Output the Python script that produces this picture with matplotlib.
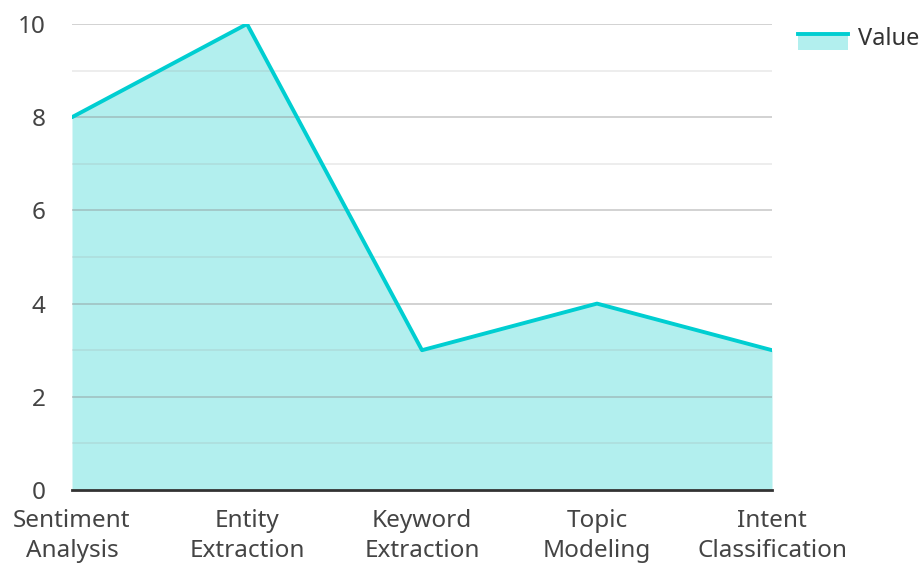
import matplotlib
matplotlib.use("Agg")
from matplotlib import pyplot as plt
from matplotlib.lines import Line2D
from matplotlib.patches import Rectangle

categories = ["Sentiment\nAnalysis", "Entity\nExtraction", "Keyword\nExtraction",
              "Topic\nModeling", "Intent\nClassification"]
values = [8, 10, 3, 4, 3]

plt.rcParams['font.family'] = ['Noto Sans', 'DejaVu Sans']

line_color = "#00CED1"
fill_color = "#B2EFEE"

fig = plt.figure(figsize=(9.22, 5.67), dpi=100)
ax = fig.add_axes([72 / 922, (567 - 490) / 567, 700 / 922, 466 / 567])

x = list(range(len(categories)))
ax.fill_between(x, values, 0, color=fill_color, linewidth=0, zorder=1)
ax.plot(x, values, color=line_color, linewidth=2.8, zorder=4, solid_capstyle="round")

# grid above the fill
for v in range(1, 11):
    if v % 2 == 0:
        ax.axhline(v, color="#8c8c8c", alpha=0.45, linewidth=1.2, zorder=2)
    else:
        ax.axhline(v, color="#a0a0a0", alpha=0.22, linewidth=1.2, zorder=2)

ax.set_xlim(0, len(categories) - 1)
ax.set_ylim(0, 10)
ax.set_yticks([0, 2, 4, 6, 8, 10])
ax.set_xticks(x)
ax.set_xticklabels(categories, linespacing=1.32)
ax.tick_params(axis="both", length=0, labelsize=17.5, colors="#444444")
ax.tick_params(axis="y", pad=19)
ax.tick_params(axis="x", pad=14)

for s in ["top", "right", "left"]:
    ax.spines[s].set_visible(False)
ax.spines["bottom"].set_color("#333333")
ax.spines["bottom"].set_linewidth(2)
ax.spines["bottom"].set_zorder(5)


class AreaHandler:
    def legend_artist(self, legend, orig_handle, fontsize, handlebox):
        x0, y0 = handlebox.xdescent, handlebox.ydescent
        w, h = handlebox.width, handlebox.height
        rect = Rectangle((x0, y0 - h * 0.3), w, h * 1.1, facecolor=fill_color, edgecolor="none",
                         transform=handlebox.get_transform())
        ln = Line2D([x0, x0 + w], [y0 + h * 0.8, y0 + h * 0.8], color=line_color,
                    linewidth=2.8, transform=handlebox.get_transform())
        handlebox.add_artist(rect)
        handlebox.add_artist(ln)
        return rect


leg = fig.legend([("area",)], ["Value"], handler_map={tuple: AreaHandler()},
                 loc="upper left", bbox_to_anchor=(798 / 922, 1 - 27 / 567),
                 frameon=False, fontsize=17, handlelength=2.1, handleheight=0.6,
                 handletextpad=0.42, borderaxespad=0, borderpad=0)
for t in leg.get_texts():
    t.set_color("#333333")

plt.savefig("out.png", dpi=100)
